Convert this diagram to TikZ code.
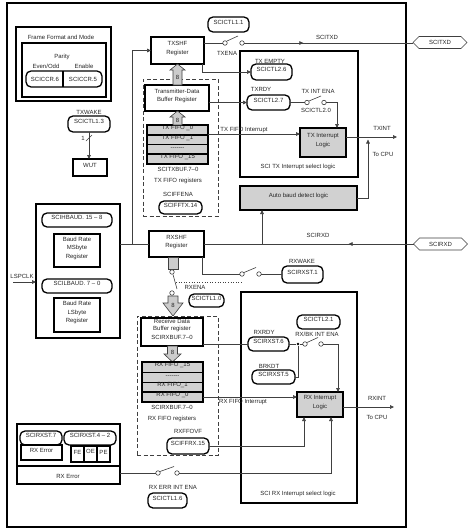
\documentclass[tikz,border=0pt]{standalone}
\usepackage{fontspec}
\setmainfont{Liberation Sans}
\usetikzlibrary{arrows.meta,shapes.symbols,decorations.markings,fit,calc}
\begin{document}
\begin{tikzpicture}[x=1pt,y=-1pt,
  font=\fontsize{6}{8.5}\selectfont, text=black!85,
  ln/.style={draw=black!75, line width=0.6pt},
  arr/.style={ln, -{Triangle[length=4pt,width=3.6pt]}},
  midarr/.style={postaction={decorate}, decoration={markings, mark=at position #1 with {\arrow{Triangle[length=4pt,width=3.6pt]}}}},
  tbox/.style={draw=black, line width=1.6pt, fill=white, inner sep=0pt, outer sep=0pt, align=center, rectangle},
  gbox/.style={tbox, fill=black!18},
  reg/.style={draw=black, line width=1.3pt, rounded corners=5pt, fill=white, inner sep=0pt, outer sep=0pt, align=center},
  lbl/.style={inner sep=0pt, align=center},
  sw/.style={draw=black!75, line width=0.6pt, fill=white, circle, inner sep=0pt, minimum size=4.5pt, outer sep=0pt},
  hex/.style={draw=black!75, line width=0.6pt, signal, signal to=west and east, inner sep=0pt, outer sep=0pt, minimum width=54pt, minimum height=12pt},
  dreg/.style={draw=black!75, line width=0.8pt, dashed, dash pattern=on 4pt off 2.5pt, inner sep=0pt, outer sep=0pt},
  fat/.style={draw=black!75, line width=0.6pt, fill=black!20}
]
\fill[white] (0,0) rectangle (474,530);
\useasboundingbox (0,0) rectangle (474,530);

% outer frame
\draw[line width=1.6pt] (7,3) rectangle (406,527);

% Frame format and mode
\node[tbox, fit={(16,27)(111,101)}] (ffm) {};
\node[lbl] (ffmt) at (61,37) {Frame Format and Mode};
\node[tbox, fit={(22,43)(106,97)}] (par) {};
\node[lbl] (part) at (62,57) {Parity};
\node[lbl] (evod) at (46,66) {Even/Odd};
\node[lbl] (enab) at (84,66) {Enable};
\node[reg, fit={(26,71)(102,87)}] (ccr) {};
\draw[line width=1.2pt] ($(ccr.north)+(-1,0)$) -- ($(ccr.south)+(-1,0)$);
\node[lbl] (ccr6) at (45,79) {SCICCR.6};
\node[lbl] (ccr5) at (83,79) {SCICCR.5};

% TXWAKE / WUT
\node[lbl] (txwk) at (89,112) {TXWAKE};
\node[reg, fit={(68,116)(110,132)}] (c13) {SCICTL1.3};
\node[tbox, fit={(73,159)(107,176)}] (wut) {WUT};
\draw[arr] (c13.south) -- (c13.south |- wut.north);
\draw[ln] (86,141) -- (92,135);
\node[lbl] (one) at (83,138) {1};

% TX FIFO region
\node[dreg, fit={(143,79)(218,216)}] (txreg) {};
\node[tbox, fit={(151,37)(204,64)}] (txshf) {TXSHF\\Register};
\node[tbox, fit={(145,85)(209,111)}] (txbuf) {Transmitter-Data\\Buffer Register};
\node[gbox, line width=1.1pt, fit={(147,125)(208,135)}] (tf0) {TX FIFO \_0};
\node[gbox, line width=1.1pt, fit={(147,135)(208,144.5)}] (tf1) {TX FIFO \_1};
\node[gbox, line width=1.1pt, fit={(147,144.5)(208,154)}] (tfd) {-{}-{}-{}-{}-{}-{}-};
\node[gbox, line width=1.1pt, fit={(147,154)(208,164)}] (tf15) {TX FIFO \_15};
\draw[line width=1.6pt] (tf0.north west) rectangle (tf15.south east);
\draw[fat] (173,85) -- (173,70) -- (170,70) -- (177.5,64) -- (185,70) -- (182,70) -- (182,85) -- cycle;
\node[lbl] (e1) at (177.5,77) {8};
\draw[fat] (173,125) -- (173,117) -- (170,117) -- (177.5,111) -- (185,117) -- (182,117) -- (182,125) -- cycle;
\node[lbl] (e2) at (177.5,120) {8};
\node[lbl] (txbl) at (178,169.5) {SCITXBUF.7--0};
\node[lbl] (txfr) at (178,181) {TX FIFO registers};
\node[lbl] (ffen) at (178,194) {SCIFFENA};
\node[reg, fit={(159,201)(202,214)}] (fftx) {SCIFFTX.14};

% TXENA switch and SCITXD
\node[reg, fit={(208,17)(249,32)}] (c11) {SCICTL1.1};
\node[sw] (s1a) at (225,43) {};
\node[sw] (s1b) at (242,43) {};
\draw[ln] (txshf.east |- s1a) -- (s1a);
\draw[ln] (227,41) -- (238,36);
\node[lbl] (txena) at (227,53) {TXENA};
\node[hex] (txd) at (440,42.5) {SCITXD};
\draw[ln, midarr=0.35] (s1b) -- (s1b -| txd.west);
\node[lbl] (txdl) at (327,37) {SCITXD};

% TX interrupt select logic
\node[tbox, fit={(240,51)(358,177)}] (txsel) {};
\node[lbl] (txsl) at (298,167) {SCI TX Interrupt select logic};
\node[lbl] (txem) at (270,61) {TX EMPTY};
\node[reg, fit={(251,64)(292,80)}] (c26) {SCICTL2.6};
\draw[arr] ([xshift=-1.5pt]txshf.south east) |- (c26.west);
\node[lbl] (txrd) at (261,89) {TXRDY};
\node[reg, fit={(247,95)(290,110)}] (c27) {SCICTL2.7};
\draw[arr] (txbuf.east |- c27.west) -- (c27.west);
\node[lbl] (txie) at (318,91) {TX INT ENA};
\node[sw] (s2a) at (307,102.5) {};
\node[sw] (s2b) at (324,102.5) {};
\draw[ln] (c27.east) -- (s2a);
\draw[ln] (309,101) -- (321,96);
\node[lbl] (c20) at (316,110) {SCICTL2.0};
\node[gbox, fit={(300,128)(346,157)}] (txlog) {TX Interrupt\\Logic};
\coordinate (k2) at (337,102.5);
\draw[arr] (s2b) -- (k2) -- (k2 |- txlog.north);
\coordinate (tfi) at (208,134);
\draw[arr] (tfi) -- (tfi -| txlog.west);
\node[lbl] (tfil) at (244,130) {TX FIFO Interrupt};
\coordinate (txo) at (397,137);
\draw[arr] (txlog.east |- txo) -- (txo);
\node[lbl] (txint) at (382,128) {TXINT};
\node[lbl] (tcpu1) at (383,154) {To CPU};

% Auto baud
\node[gbox, fit={(240,186)(357,210)}] (abd) {Auto baud detect logic};
\coordinate (abk) at (368,139.5);
\draw[arr] (abd.east) -| (abk);

% RXSHF and baud
\node[tbox, fit={(36,204)(120,338)}] (baud) {};
\node[reg, fit={(42,213)(112,227)}] (hb) {SCIHBAUD.\ 15 -- 8};
\node[tbox, line width=1.4pt, fit={(54,234)(100,267)}] (ms) {Baud Rate\\MSbyte\\Register};
\node[reg, fit={(42,279)(112,293)}] (lb) {SCILBAUD.\ 7 -- 0};
\node[tbox, line width=1.4pt, fit={(54,298)(100,332)}] (ls) {Baud Rate\\LSbyte\\Register};
\node[lbl] (lsp) at (22,276) {LSPCLK};
\coordinate (lspin) at (13,282);
\draw[arr] (lspin) -- (lspin -| baud.west);

\node[tbox, fit={(149,231)(204,257)}] (rxshf) {RXSHF\\Register};
\draw[ln] (baud.east |- rxshf.west) -- (rxshf.west);
\coordinate (ck) at (132,244);
\draw[arr] (ck) |- (txshf.west);
\node[hex] (rxd) at (440.5,244) {SCIRXD};
\draw[ln, midarr=0.31] (rxd.west) -- (rxshf.east);
\node[lbl] (rxdl) at (318,235) {SCIRXD};
\coordinate (ab0) at (262,244);
\draw[arr] (ab0) -- (ab0 |- abd.south);

% RXENA switch
\node[fat, fit={(168,257)(178,269)}, inner sep=0pt, outer sep=0pt] (rxg) {};
\node[sw] (s3a) at (172,272) {};
\node[sw] (s3b) at (172,293) {};
\draw[ln] (173,274.5) -- (177,289);
\draw[ln, dotted] (176,282) -- (242,282);
\node[lbl] (rxena) at (195,287) {RXENA};
\node[reg, fit={(189,294)(224,307)}] (c10) {SCICTL1.0};

% RXWAKE
\node[sw] (s4a) at (242,274) {};
\node[sw] (s4b) at (259,274) {};
\draw[ln] ([xshift=-1.5pt]rxshf.south east) |- (s4a);
\draw[ln] (244,272.5) -- (256,267.5);
\node[reg, fit={(282,266)(323,283)}] (cx1) {SCIRXST.1};
\draw[ln] (s4b) -- (s4b -| cx1.west);
\node[lbl] (rxwk) at (302,261) {RXWAKE};

% RX FIFO region
\node[dreg, fit={(137,316)(218,455)}] (rxreg) {};
\draw[fat] (168,296) -- (168,303) -- (163,303) -- (173,316) -- (183,303) -- (178,303) -- (178,296) -- cycle;
\node[lbl] (e3) at (173,305) {8};
\node[tbox, fit={(141,318)(203,346)}] (rxbuf) {Receive Data\\[-2pt]Buffer register\\[1pt]SCIRXBUF.7--0};
\draw[fat] (167.5,346) -- (167.5,354) -- (164,354) -- (172.5,362) -- (181,354) -- (177.5,354) -- (177.5,346) -- cycle;
\node[lbl] (e4) at (172.5,352) {8};
\node[gbox, line width=1.1pt, fit={(142,362)(203,372.5)}] (rf15) {RX FIFO \_15};
\node[gbox, line width=1.1pt, fit={(142,372.5)(203,382.5)}] (rfd) {-{}-{}-{}-{}-{}-{}-};
\node[gbox, line width=1.1pt, fit={(142,382.5)(203,392)}] (rf1) {RX FIFO\_1};
\node[gbox, line width=1.1pt, fit={(142,392)(203,402)}] (rf0) {RX FIFO \_0};
\draw[line width=1.6pt] (rf15.north west) rectangle (rf0.south east);
\node[lbl] (rxbl) at (172,407) {SCIRXBUF.7--0};
\node[lbl] (rxfr) at (172,419) {RX FIFO registers};
\node[lbl] (rxov) at (188,431) {RXFFOVF};
\node[reg, fit={(167,438)(209,454)}] (ffrx) {SCIFFRX.15};

% RX interrupt select logic
\node[tbox, fit={(241,292)(357,503)}] (rxsel) {};
\node[lbl] (rxsl) at (298,494) {SCI RX Interrupt select logic};
\node[reg, fit={(297,315)(340,329)}] (c21) {SCICTL2.1};
\node[lbl] (rxbk) at (317,334) {RX/BK INT ENA};
\node[lbl] (rxrd) at (264,332) {RXRDY};
\node[reg, fit={(248,337)(289,351)}] (cx6) {SCIRXST.6};
\node[circle, fill=black, inner sep=0pt, minimum size=2.8pt] (dot) at (298,344) {};
\node[sw] (s5a) at (305,344) {};
\node[sw] (s5b) at (321,344) {};
\draw[ln] (cx6.east) -- (dot) -- (s5a);
\draw[ln] (307,342.5) -- (318,337.5);
\node[lbl] (brk) at (269,366) {BRKDT};
\node[reg, fit={(252,370)(295,384)}] (cx5) {SCIRXST.5};
\draw[ln] (cx5.east) -| (dot);
\draw[ln] (rxbuf.east |- cx6.west) -- (cx6.west);
\node[gbox, fit={(297,392)(343,417)}] (rxlog) {RX Interrupt\\Logic};
\coordinate (k5) at (338,344);
\draw[arr] (s5b) -- (k5) -- (k5 |- rxlog.north);
\coordinate (rfi) at (203,397);
\draw[arr] (rfi) -- (rfi -| rxlog.west);
\node[lbl, anchor=west] (rfil) at (219,402.5) {RX FIFO Interrupt};
\coordinate (rxo) at (394,407);
\draw[arr] (rxlog.east |- rxo) -- (rxo);
\node[lbl] (rxint) at (377,398) {RXINT};
\node[lbl] (tcpu2) at (377,417) {To CPU};
\coordinate (q1) at (304,446);
\draw[arr] (ffrx.east) -- (ffrx.east -| q1) -- (q1 |- rxlog.south);

% RX error
\node[tbox, fit={(17,424)(120,484)}] (rxe) {};
\draw[line width=1.6pt] (17,466) -- (120,466);
\node[reg, fit={(20,431)(62,445)}] (cx7) {SCIRXST.7};
\node[tbox, line width=1.3pt, fit={(21,445)(62,460)}] (rxe1) {RX Error};
\node[reg, fit={(64,431)(116,445)}] (cx42) {SCIRXST.4 -- 2};
\node[tbox, line width=1.3pt, fit={(71,446)(84,462)}] (fe) {FE};
\node[tbox, line width=1.3pt, fit={(84,446)(97,462)}] (oe) {OE};
\node[tbox, line width=1.3pt, fit={(97,446)(110,462)}] (pe) {PE};
\node[lbl] (rxe2) at (68,476) {RX Error};
\node[sw] (s6a) at (158,473) {};
\node[sw] (s6b) at (177,473) {};
\draw[ln] (rxe.east |- s6a) -- (s6a);
\draw[ln] (160,471.5) -- (174,466.5);
\coordinate (q2) at (331,473);
\draw[arr] (s6b) -- (q2) -- (q2 |- rxlog.south);
\node[lbl] (rxei) at (173,487) {RX ERR INT ENA};
\node[reg, fit={(148,493)(187,508)}] (c16) {SCICTL1.6};
\end{tikzpicture}
\end{document}
